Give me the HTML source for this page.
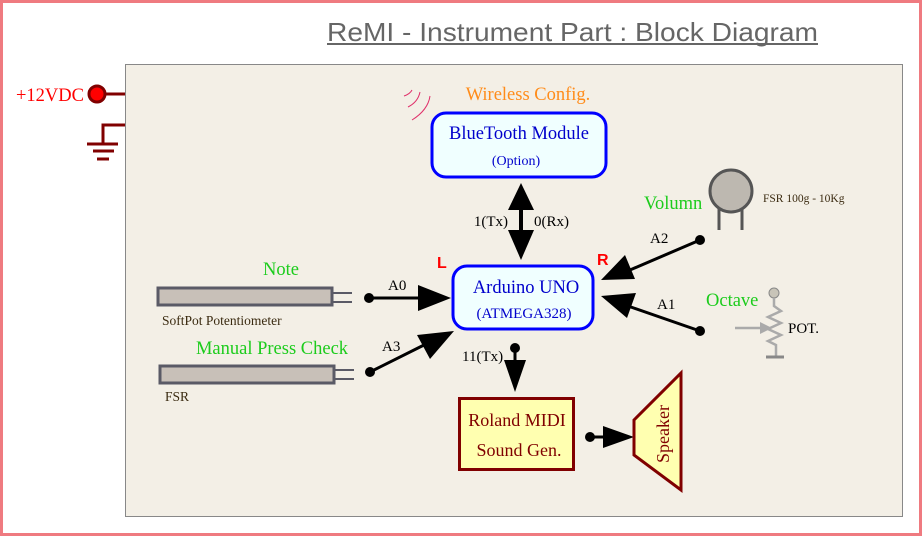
<!DOCTYPE html>
<html><head><meta charset="utf-8"><style>
html,body{margin:0;padding:0;width:922px;height:536px;overflow:hidden;background:#fff}
svg{display:block}
text{font-family:"Liberation Serif",serif}
</style></head><body>
<svg width="922" height="536" viewBox="0 0 922 536" xmlns="http://www.w3.org/2000/svg">
<rect x="1.5" y="1.5" width="919" height="533" fill="#fff" stroke="#ef7a80" stroke-width="3"/>
<text x="327" y="41" font-size="26" fill="#666" textLength="491" lengthAdjust="spacingAndGlyphs" style="font-family:'Liberation Sans',sans-serif">ReMI - Instrument Part : Block Diagram</text>
<line x1="327" y1="44" x2="818" y2="44" stroke="#666" stroke-width="2"/>
<rect x="125.5" y="64.5" width="777" height="452" fill="#f3efe6" stroke="#888" stroke-width="1"/>
<text x="16" y="101" font-size="18.5" fill="#f00">+12VDC</text>
<line x1="100" y1="94" x2="125" y2="94" stroke="#800000" stroke-width="3"/>
<circle cx="97" cy="94" r="8" fill="#f00" stroke="#800000" stroke-width="3"/>
<polyline points="125,125 103,125 103,145" fill="none" stroke="#800000" stroke-width="3"/>
<line x1="87" y1="144" x2="118" y2="144" stroke="#800000" stroke-width="3"/>
<line x1="93" y1="151" x2="114" y2="151" stroke="#800000" stroke-width="3"/>
<line x1="97" y1="159" x2="109" y2="159" stroke="#800000" stroke-width="3"/>
<g fill="none" stroke="#e0306a" stroke-width="1">
<path d="M404,96 Q410,94 412,90"/>
<path d="M408,107 Q418,102 420,92"/>
<path d="M412,120 Q428,110 430,96"/>
</g>
<text x="528" y="100" font-size="18.5" fill="#ff8c1a" text-anchor="middle">Wireless Config.</text>
<rect x="432" y="113" width="174" height="64" rx="14" fill="#f0ffff" stroke="#0000ff" stroke-width="3"/>
<text x="519" y="139" font-size="18.5" fill="#0000cc" text-anchor="middle">BlueTooth Module</text>
<text x="516" y="165" font-size="14" fill="#0000cc" text-anchor="middle">(Option)</text>
<line x1="521" y1="200" x2="521" y2="240" stroke="#000" stroke-width="4"/>
<polygon points="521,183 508,210 534,210" fill="#000"/>
<polygon points="521,260 508,230 534,230" fill="#000"/>
<text x="508" y="226" font-size="15" fill="#000" text-anchor="end">1(Tx)</text>
<text x="534" y="226" font-size="15" fill="#000">0(Rx)</text>
<rect x="453" y="266" width="140" height="63" rx="14" fill="#f0ffff" stroke="#0000ff" stroke-width="3"/>
<text x="526" y="293" font-size="18.5" fill="#0000cc" text-anchor="middle">Arduino UNO</text>
<text x="524" y="318" font-size="15" fill="#0000cc" text-anchor="middle">(ATMEGA328)</text>
<text x="437" y="268" font-size="16" font-weight="bold" fill="#f00" style="font-family:'Liberation Sans',sans-serif">L</text>
<text x="597" y="265" font-size="16" font-weight="bold" fill="#f00" style="font-family:'Liberation Sans',sans-serif">R</text>
<circle cx="369" cy="298" r="5" fill="#000"/>
<line x1="369" y1="298" x2="425" y2="298" stroke="#000" stroke-width="3"/>
<polygon points="451,298 418,285 418,311" fill="#000"/>
<text x="388" y="290" font-size="15">A0</text>
<circle cx="370" cy="372" r="5" fill="#000"/>
<line x1="370" y1="372" x2="430" y2="342" stroke="#000" stroke-width="3"/>
<polygon points="454,331 417,335 430,359" fill="#000"/>
<text x="382" y="351" font-size="15">A3</text>
<circle cx="700" cy="240" r="5" fill="#000"/>
<line x1="700" y1="240" x2="630" y2="270" stroke="#000" stroke-width="3"/>
<polygon points="601,280 625,255 635,279" fill="#000"/>
<text x="650" y="243" font-size="15">A2</text>
<circle cx="700" cy="331" r="5" fill="#000"/>
<line x1="700" y1="331" x2="628" y2="306" stroke="#000" stroke-width="3"/>
<polygon points="601,296 636,293 627,318" fill="#000"/>
<text x="657" y="309" font-size="15">A1</text>
<text x="281" y="275" font-size="18.5" fill="#1ccc1c" text-anchor="middle">Note</text>
<rect x="158" y="288" width="174" height="17" fill="#c8c0b8" stroke="#5a5a66" stroke-width="3"/>
<line x1="332" y1="293" x2="352" y2="293" stroke="#5a5a66" stroke-width="2"/>
<line x1="332" y1="302" x2="352" y2="302" stroke="#5a5a66" stroke-width="2"/>
<text x="162" y="325" font-size="13.5" fill="#3a2a10">SoftPot Potentiometer</text>
<text x="272" y="354" font-size="18.5" fill="#1ccc1c" text-anchor="middle">Manual Press Check</text>
<rect x="160" y="366" width="174" height="17" fill="#c8c0b8" stroke="#5a5a66" stroke-width="3"/>
<line x1="334" y1="370" x2="354" y2="370" stroke="#5a5a66" stroke-width="2"/>
<line x1="334" y1="379" x2="354" y2="379" stroke="#5a5a66" stroke-width="2"/>
<text x="165" y="401" font-size="13.5" fill="#3a2a10">FSR</text>
<text x="644" y="209" font-size="18.5" fill="#1ccc1c">Volumn</text>
<line x1="719" y1="208" x2="719" y2="230" stroke="#555" stroke-width="3"/>
<line x1="742" y1="208" x2="742" y2="230" stroke="#555" stroke-width="3"/>
<circle cx="731" cy="191" r="21" fill="#bdb8b0" stroke="#555" stroke-width="3"/>
<text x="763" y="202" font-size="11.5" fill="#3a2a10">FSR 100g - 10Kg</text>
<text x="706" y="306" font-size="18.5" fill="#1ccc1c">Octave</text>
<circle cx="774" cy="293" r="5" fill="#c8c4b8" stroke="#888" stroke-width="1"/>
<polyline points="774,298 774,306 781,311 768,317 781,323 768,329 781,335 768,341 776,345 776,357" fill="none" stroke="#aaa" stroke-width="2.5"/>
<line x1="766" y1="357" x2="784" y2="357" stroke="#888" stroke-width="3"/>
<line x1="735" y1="328" x2="762" y2="328" stroke="#aaa" stroke-width="2.5"/>
<polygon points="772,328 760,322 760,334" fill="#aaa"/>
<text x="788" y="333" font-size="15">POT.</text>
<text x="462" y="361" font-size="15">11(Tx)</text>
<circle cx="515" cy="348" r="5" fill="#000"/>
<line x1="515" y1="348" x2="515" y2="370" stroke="#000" stroke-width="3"/>
<polygon points="515,392 504,360 526,360" fill="#000"/>
<rect x="459.5" y="398.5" width="114" height="71" fill="#ffffb0" stroke="#800000" stroke-width="3"/>
<text x="517" y="426" font-size="18" fill="#800000" text-anchor="middle">Roland MIDI</text>
<text x="519" y="456" font-size="18" fill="#800000" text-anchor="middle">Sound Gen.</text>
<circle cx="590" cy="437" r="5" fill="#000"/>
<line x1="590" y1="437" x2="610" y2="437" stroke="#000" stroke-width="3"/>
<polygon points="634,437 603,426 603,448" fill="#000"/>
<polygon points="634,420 681,373 681,490 634,455" fill="#ffffb0" stroke="#800000" stroke-width="3"/>
<text x="0" y="0" font-size="18" fill="#800000" text-anchor="middle" transform="translate(669,434) rotate(-90)">Speaker</text>
</svg>
</body></html>
